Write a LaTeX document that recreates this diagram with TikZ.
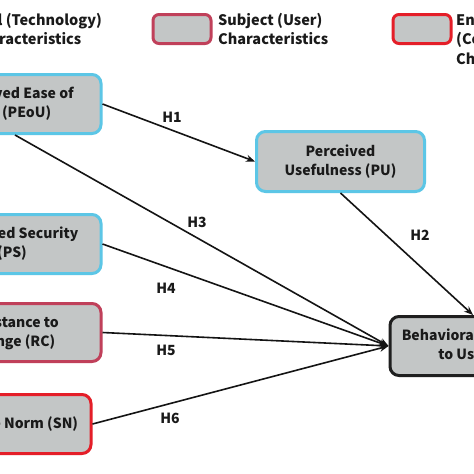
\documentclass[tikz,border=0pt]{standalone}
\usepackage{fontspec}
\setmainfont{Noto Sans CJK KR}
\usetikzlibrary{arrows.meta}
\definecolor{cyanb}{HTML}{5CC6E6}
\definecolor{crim}{HTML}{C0405A}
\definecolor{redb}{HTML}{E41E28}
\definecolor{boxfill}{HTML}{C3C6C6}
\definecolor{txt}{HTML}{1A1A1A}
\tikzset{
  box/.style={draw, line width=3pt, rounded corners=9pt, fill=boxfill, align=center,
    font=\fontsize{14}{19}\selectfont\bfseries, text=txt, inner sep=0pt},
  techbox/.style={box, draw=cyanb},
  userbox/.style={box, draw=crim},
  envbox/.style={box, draw=redb},
  outbox/.style={box, draw=black!88},
  legbox/.style={draw, line width=3pt, rounded corners=6pt, fill=boxfill,
    minimum width=58pt, minimum height=29pt, inner sep=0pt},
  legtxt/.style={anchor=west, align=left, font=\fontsize{14.5}{19.5}\selectfont\bfseries, text=txt, inner sep=0pt},
  hlab/.style={font=\fontsize{14}{15}\selectfont\bfseries, text=txt, inner sep=1pt},
  conn/.style={line width=1.6pt, black!92, -{Stealth[length=9pt,width=7pt]}}
}
\begin{document}
\begin{tikzpicture}[x=1pt,y=-1pt]
\useasboundingbox (0,0) rectangle (474,474);
\clip (0,0) rectangle (474,474);
\fill[white] (0,0) rectangle (474,474);
% legend
\node[legbox, draw=cyanb] (lg1) at (-66,29) {};
\node[legtxt, anchor=north west] (lt1) at (-29,13) {Tool (Technology)\\Characteristics};
\node[legbox, draw=crim] (lg2) at (182,29) {};
\node[legtxt, anchor=north west] (lt2) at (218,13) {Subject (User)\\Characteristics};
\node[legbox, draw=redb] (lg3) at (422,29) {};
\node[legtxt, anchor=north west] (lt3) at (456,13) {Environment\\(Context)\\Characteristics};
% boxes
\node[techbox, minimum width=178pt, minimum height=59pt] (peou) at (12,104) {Perceived Ease of\\Use (PEoU)};
\node[techbox, minimum width=168pt, minimum height=60pt] (pu) at (340.5,161.5) {Perceived\\Usefulness (PU)};
\node[techbox, minimum width=178pt, minimum height=59pt] (ps) at (12,244) {Perceived Security\\(PS)};
\node[userbox, minimum width=178pt, minimum height=58pt] (rc) at (12,332.5) {Resistance to\\Change (RC)};
\node[envbox, minimum width=178pt, minimum height=59pt] (sn) at (2,424) {Subjective Norm (SN)};
\node[outbox, minimum width=170pt, minimum height=59pt] (bi) at (475,346) {Behavioral Intention\\to Use (BI)};
% connectors
\coordinate (h3s) at ([xshift=3pt]peou.south);
\coordinate (bit) at ([xshift=-2pt]bi.north);
\draw[conn] (peou.east) -- (pu.west);
\draw[conn] (pu.south) -- (bit);
\draw[conn] (h3s) -- (bi.west);
\draw[conn] (ps.east) -- (bi.west);
\draw[conn] (rc.east) -- (bi.west);
\draw[conn] (sn.east) -- (bi.west);
% labels
\node[hlab] (l1) at (172,117) {H1};
\node[hlab] (l2) at (420,235) {H2};
\node[hlab] (l3) at (197,222) {H3};
\node[hlab] (l4) at (166,288) {H4};
\node[hlab] (l5) at (166,350) {H5};
\node[hlab] (l6) at (170,418) {H6};
\end{tikzpicture}
\end{document}
